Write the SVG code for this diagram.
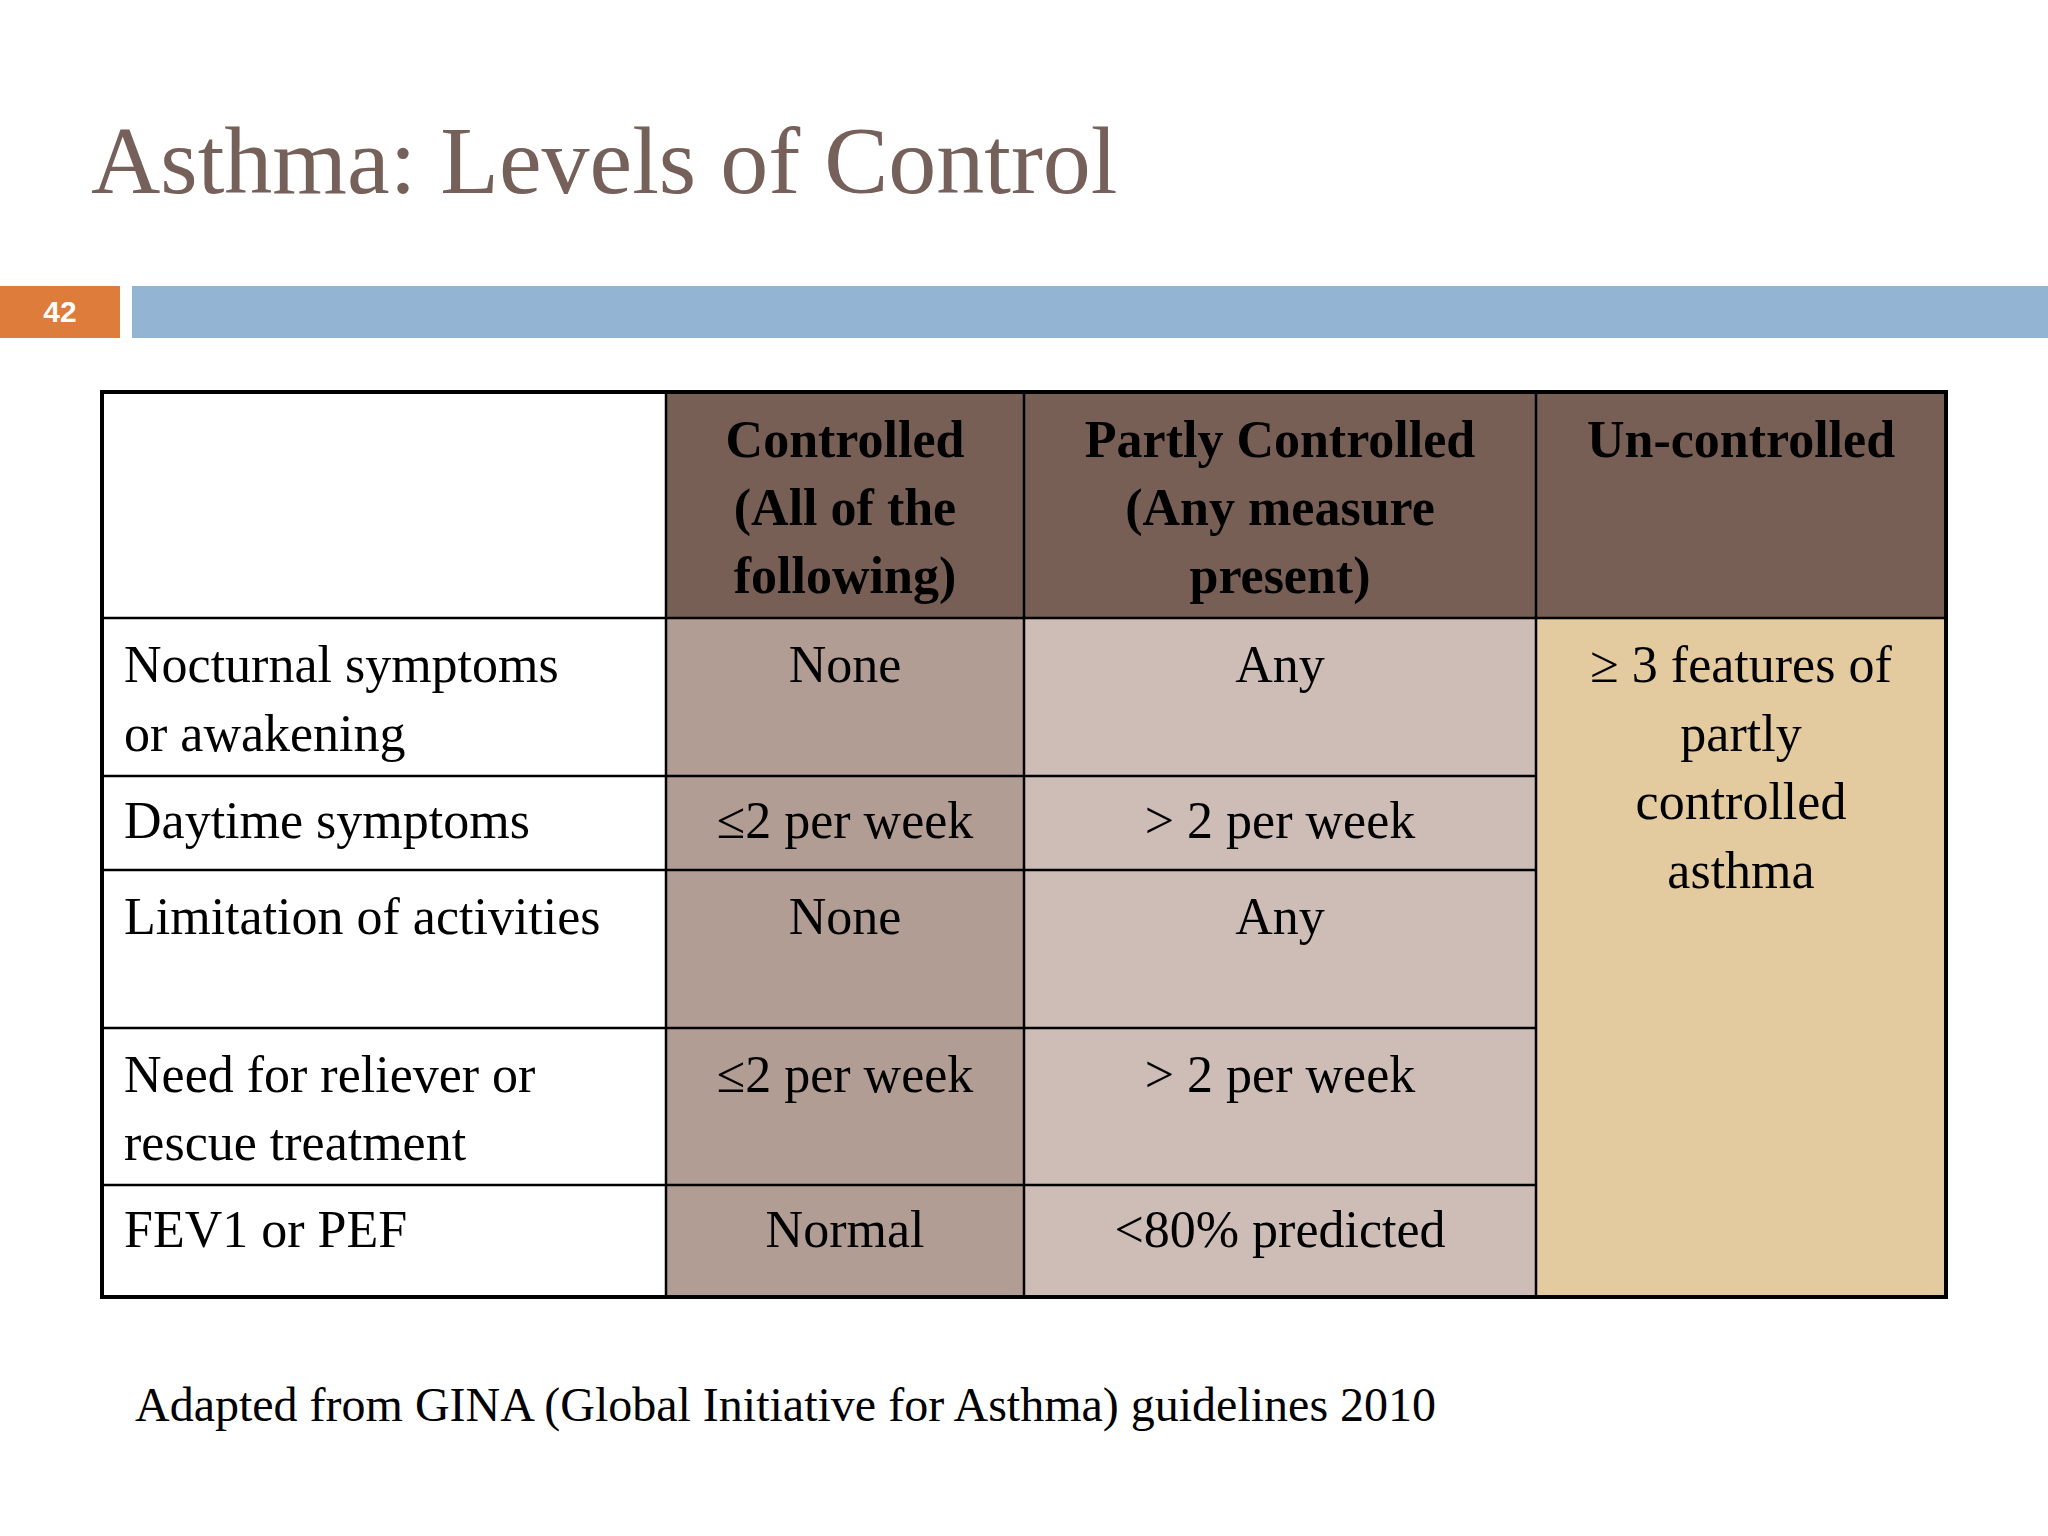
<svg xmlns="http://www.w3.org/2000/svg" width="2048" height="1536" viewBox="0 0 2048 1536">
<style>
.t{font-family:"Liberation Serif",serif;font-size:52px;fill:#000}
.h{font-family:"Liberation Serif",serif;font-size:52px;font-weight:bold;fill:#000;text-anchor:middle}
.c{text-anchor:middle}
.g{stroke:#000;stroke-width:2.5;fill:none}
</style>
<rect width="2048" height="1536" fill="#fff"/>
<text x="91" y="193" font-family="Liberation Serif,serif" font-size="96" fill="#76605a">Asthma: Levels of Control</text>
<rect x="0" y="286" width="120" height="52" fill="#de7c3c"/>
<text x="60" y="322" font-family="Liberation Sans,sans-serif" font-size="30" font-weight="bold" fill="#fff" text-anchor="middle">42</text>
<rect x="132" y="286" width="1916" height="52" fill="#93b5d3"/>
<g id="table">
<rect x="666" y="392" width="1280" height="226" fill="#785f55"/>
<rect x="666" y="618" width="358" height="679" fill="#b29d94"/>
<rect x="1024" y="618" width="512" height="679" fill="#cdbdb6"/>
<rect x="1536" y="618" width="410" height="679" fill="#e3cb9f"/>
<path class="g" d="M666 392V1297M1024 392V1297M1536 392V1297M102 618H1946M102 776H1536M102 870H1536M102 1028H1536M102 1185H1536"/>
<rect x="102" y="392" width="1844" height="905" fill="none" stroke="#000" stroke-width="4"/>
</g>
<g id="headers">
<text class="h" x="845" y="457">Controlled</text><text class="h" x="845" y="525">(All of the</text><text class="h" x="845" y="593">following)</text>
<text class="h" x="1280" y="457">Partly Controlled</text><text class="h" x="1280" y="525">(Any measure</text><text class="h" x="1280" y="593">present)</text>
<text class="h" x="1741" y="457">Un-controlled</text>
</g>
<g id="rows">
<text class="t" x="124" y="682">Nocturnal symptoms</text><text class="t" x="124" y="751">or awakening</text>
<text class="t c" x="845" y="682">None</text><text class="t c" x="1280" y="682">Any</text>
<text class="t" x="124" y="838">Daytime symptoms</text>
<text class="t c" x="845" y="838">≤2 per week</text><text class="t c" x="1280" y="838">&gt; 2 per week</text>
<text class="t" x="124" y="934">Limitation of activities</text>
<text class="t c" x="845" y="934">None</text><text class="t c" x="1280" y="934">Any</text>
<text class="t" x="124" y="1092">Need for reliever or</text><text class="t" x="124" y="1160">rescue treatment</text>
<text class="t c" x="845" y="1092">≤2 per week</text><text class="t c" x="1280" y="1092">&gt; 2 per week</text>
<text class="t" x="124" y="1247">FEV1 or PEF</text>
<text class="t c" x="845" y="1247">Normal</text><text class="t c" x="1280" y="1247">&lt;80% predicted</text>
<text class="t c" x="1741" y="682">≥ 3 features of</text><text class="t c" x="1741" y="751">partly</text><text class="t c" x="1741" y="819">controlled</text><text class="t c" x="1741" y="888">asthma</text>
</g>
<text x="135" y="1421" font-family="Liberation Serif,serif" font-size="48" fill="#000">Adapted from GINA (Global Initiative for Asthma) guidelines 2010</text>
</svg>
